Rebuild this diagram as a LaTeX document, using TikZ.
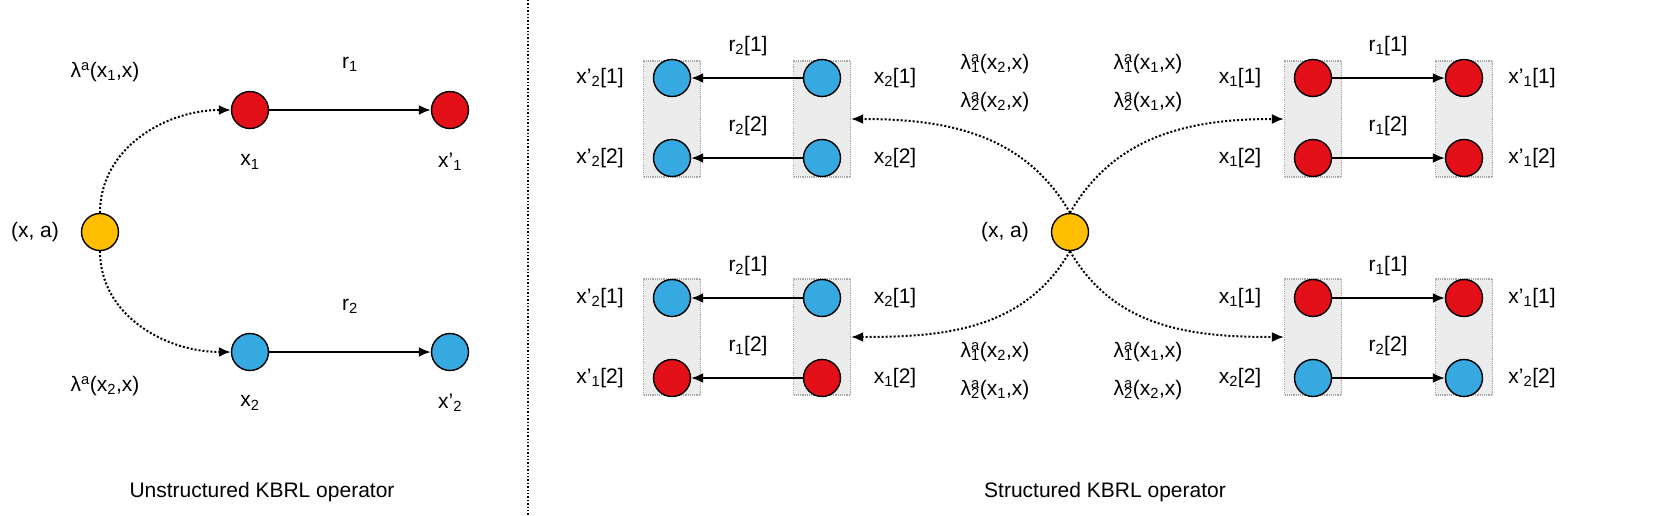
\documentclass[tikz,border=0pt]{standalone}
\usepackage{fontspec}
\setmainfont{Liberation Sans}
\usetikzlibrary{arrows.meta}
\definecolor{cred}{HTML}{E3101A}
\definecolor{cblue}{HTML}{36A9E1}
\definecolor{cyel}{HTML}{FFBF00}
\newcommand{\lsb}[2]{λ\rlap{\textsuperscript{#1}}\textsubscript{#2}}
\newcommand{\sbx}[1]{\textsubscript{#1}}
\begin{document}
\begin{tikzpicture}[x=1pt,y=-1pt,font=\fontsize{21}{24}\selectfont,
  st/.style={circle,draw=black,line width=1.4pt,minimum size=37pt,inner sep=0pt},
  R/.style={st,fill=cred}, B/.style={st,fill=cblue}, Y/.style={st,fill=cyel},
  box/.style={draw=gray!70,densely dotted,line width=1.2pt,fill=gray!15,minimum width=57pt,minimum height=116pt,inner sep=0pt},
  arr/.style={-{Latex[length=12pt,width=10pt]},line width=2pt},
  dot/.style={-{Latex[length=12pt,width=10pt]},line width=2pt,dotted}]
\useasboundingbox (0,0) rectangle (1677,515);
% left
\node[Y] (y1) at (100,232) {};
\node[R] (a1) at (250,110) {};
\node[R] (a2) at (450,110) {};
\node[B] (b1) at (250,352) {};
\node[B] (b2) at (450,352) {};
\draw[arr] (a1) -- (a2); \draw[arr] (b1) -- (b2);
\draw[dot] (y1.north) to[out=90,in=180] (a1.west);
\draw[dot] (y1.south) to[out=-90,in=180] (b1.west);
\node (t1) at (35,232) {(x, a)};
\node (t2) at (105,72) {λ\textsuperscript{a}(x\sbx{1},x)};
\node (t3) at (105,386) {λ\textsuperscript{a}(x\sbx{2},x)};
\node (t4) at (250,162) {x\sbx{1}};
\node (t5) at (450,162) {x'\sbx{1}};
\node (t6) at (250,403) {x\sbx{2}};
\node (t7) at (450,403) {x'\sbx{2}};
\node (t8) at (350,64) {r\sbx{1}};
\node (t9) at (350,306) {r\sbx{2}};
\node (t10) at (262,492) {Unstructured KBRL operator};
\coordinate (d1) at (528,0); \coordinate (d2) at (528,515);
\draw[dotted,line width=1.4pt] (d1) -- (d2);
% right
\node[Y] (y2) at (1070,232) {};
\node (u0) at (1005,232) {(x, a)};
% TL
\node[box] (TL1) at (672,119) {}; \node[box] (TL2) at (822,119) {};
\node[B] (p1) at (672,78) {}; \node[B] (p2) at (672,158) {};
\node[B] (q1) at (822,78) {}; \node[B] (q2) at (822,158) {};
\draw[arr] (q1) -- (p1); \draw[arr] (q2) -- (p2);
\node at (600,78) {x'\sbx{2}[1]}; \node at (600,158) {x'\sbx{2}[2]};
\node at (895,78) {x\sbx{2}[1]}; \node at (895,158) {x\sbx{2}[2]};
\node at (748,46) {r\sbx{2}[1]}; \node at (748,126) {r\sbx{2}[2]};
% TR
\node[box] (TR1) at (1313,119) {}; \node[box] (TR2) at (1464,119) {};
\node[R] (p3) at (1313,78) {}; \node[R] (p4) at (1313,158) {};
\node[R] (q3) at (1464,78) {}; \node[R] (q4) at (1464,158) {};
\draw[arr] (p3) -- (q3); \draw[arr] (p4) -- (q4);
\node at (1240,78) {x\sbx{1}[1]}; \node at (1240,158) {x\sbx{1}[2]};
\node at (1532,78) {x'\sbx{1}[1]}; \node at (1532,158) {x'\sbx{1}[2]};
\node at (1388,46) {r\sbx{1}[1]}; \node at (1388,126) {r\sbx{1}[2]};
% BL
\node[box] (BL1) at (672,337) {}; \node[box] (BL2) at (822,337) {};
\node[B] (p5) at (672,298) {}; \node[R] (p6) at (672,378) {};
\node[B] (q5) at (822,298) {}; \node[R] (q6) at (822,378) {};
\draw[arr] (q5) -- (p5); \draw[arr] (q6) -- (p6);
\node at (600,298) {x'\sbx{2}[1]}; \node at (600,378) {x'\sbx{1}[2]};
\node at (895,298) {x\sbx{2}[1]}; \node at (895,378) {x\sbx{1}[2]};
\node at (748,266) {r\sbx{2}[1]}; \node at (748,346) {r\sbx{1}[2]};
% BR
\node[box] (BR1) at (1313,337) {}; \node[box] (BR2) at (1464,337) {};
\node[R] (p7) at (1313,298) {}; \node[B] (p8) at (1313,378) {};
\node[R] (q7) at (1464,298) {}; \node[B] (q8) at (1464,378) {};
\draw[arr] (p7) -- (q7); \draw[arr] (p8) -- (q8);
\node at (1240,298) {x\sbx{1}[1]}; \node at (1240,378) {x\sbx{2}[2]};
\node at (1532,298) {x'\sbx{1}[1]}; \node at (1532,378) {x'\sbx{2}[2]};
\node at (1388,266) {r\sbx{1}[1]}; \node at (1388,346) {r\sbx{2}[2]};
% lambda labels
\node at (995,64) {\lsb{a}{1}(x\sbx{2},x)}; \node at (995,102) {\lsb{a}{2}(x\sbx{2},x)};
\node at (1148,64) {\lsb{a}{1}(x\sbx{1},x)}; \node at (1148,102) {\lsb{a}{2}(x\sbx{1},x)};
\node at (995,352) {\lsb{a}{1}(x\sbx{2},x)}; \node at (995,390) {\lsb{a}{2}(x\sbx{1},x)};
\node at (1148,352) {\lsb{a}{1}(x\sbx{1},x)}; \node at (1148,390) {\lsb{a}{2}(x\sbx{2},x)};
% curves
\draw[dot] (y2.north) to[out=120,in=0] (TL2.east);
\draw[dot] (y2.north) to[out=60,in=180] (TR1.west);
\draw[dot] (y2.south) to[out=-120,in=0] (BL2.east);
\draw[dot] (y2.south) to[out=-60,in=180] (BR1.west);
\node at (1105,492) {Structured KBRL operator};
\end{tikzpicture}
\end{document}
